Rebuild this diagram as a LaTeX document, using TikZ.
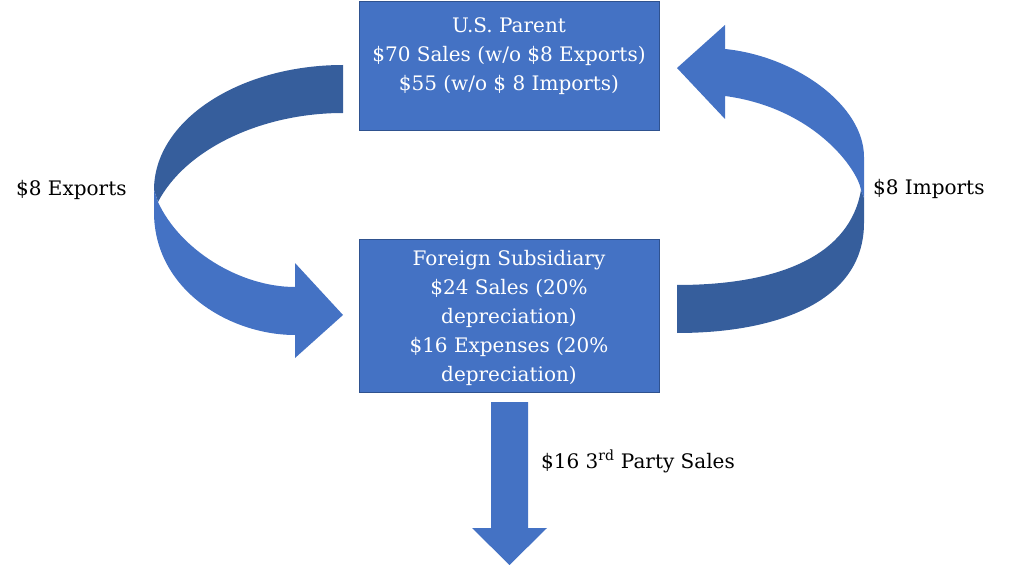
\documentclass[tikz,border=0pt]{standalone}
\usepackage{fontspec}
\setmainfont{DejaVu Serif}
\usepackage{xcolor}
\usepackage{tikz}
\definecolor{boxblue}{HTML}{4472C4}
\definecolor{backblue}{HTML}{365E9C}
\definecolor{edgeblue}{HTML}{2F528F}

\tikzset{
    box/.style={draw=edgeblue, fill=boxblue, minimum width=300pt, inner sep=0pt},
    boxtext/.style={text=white, align=center, inner sep=0pt, font=\fontsize{20}{29}\selectfont},
    lbl/.style={anchor=base west, inner sep=0pt, font=\fontsize{20}{24}\selectfont},
    front/.style={fill=boxblue},
    back/.style={fill=backblue}
}

\begin{document}
\begin{tikzpicture}[x=1pt, y=-1pt]
    \useasboundingbox (0,0) rectangle (1013,567);

    \node[box, minimum height=129pt] (P) at (509, 65.5) {};
    \node[boxtext] (Ptext) at (509, 56) {U.S. Parent\\\$70 Sales (w/o \$8 Exports)\\\$55 (w/o \$ 8 Imports)};

    \node[box, minimum height=153pt] (S) at (509.5, 315.5) {};
    \node[boxtext] (Stext) at (509, 318) {Foreign Subsidiary\\\$24 Sales (20\%\\depreciation)\\\$16 Expenses (20\%\\depreciation)};

    \fill[back] (343,65) .. controls (240,65) and (154,120) .. (154,190) -- (158,202)
        .. controls (185,150) and (260,113) .. (343,113) -- cycle;
    \fill[front] (154,190) -- (154,212) .. controls (154,290) and (230,335) .. (295,335)
        -- (295,358) -- (343,315) -- (295,263) -- (295,287)
        .. controls (240,287) and (180,250) .. (158,202) -- cycle;

    \fill[back] (864,198) -- (864,223) .. controls (864,300) and (780,333) .. (677,333)
        -- (677,285) .. controls (780,285) and (850,255) .. (861,190) -- cycle;
    \fill[front] (725,49) .. controls (795,56) and (864,105) .. (864,157) -- (864,198)
        -- (861,190) .. controls (858,170) and (815,108) .. (725,96)
        -- (725,119) -- (677,68) -- (725,25) -- cycle;

    \fill[front] (491,402) -- (528,402) -- (528,528) -- (547,528) -- (509.5,565)
        -- (472,528) -- (491,528) -- cycle;

    \node[lbl] (exports) at (16,196) {\$8 Exports};
    \node[lbl] (imports) at (873,195) {\$8 Imports};
    \node[lbl] (third) at (541,468) {\$16 3\textsuperscript{rd} Party Sales};
\end{tikzpicture}
\end{document}
